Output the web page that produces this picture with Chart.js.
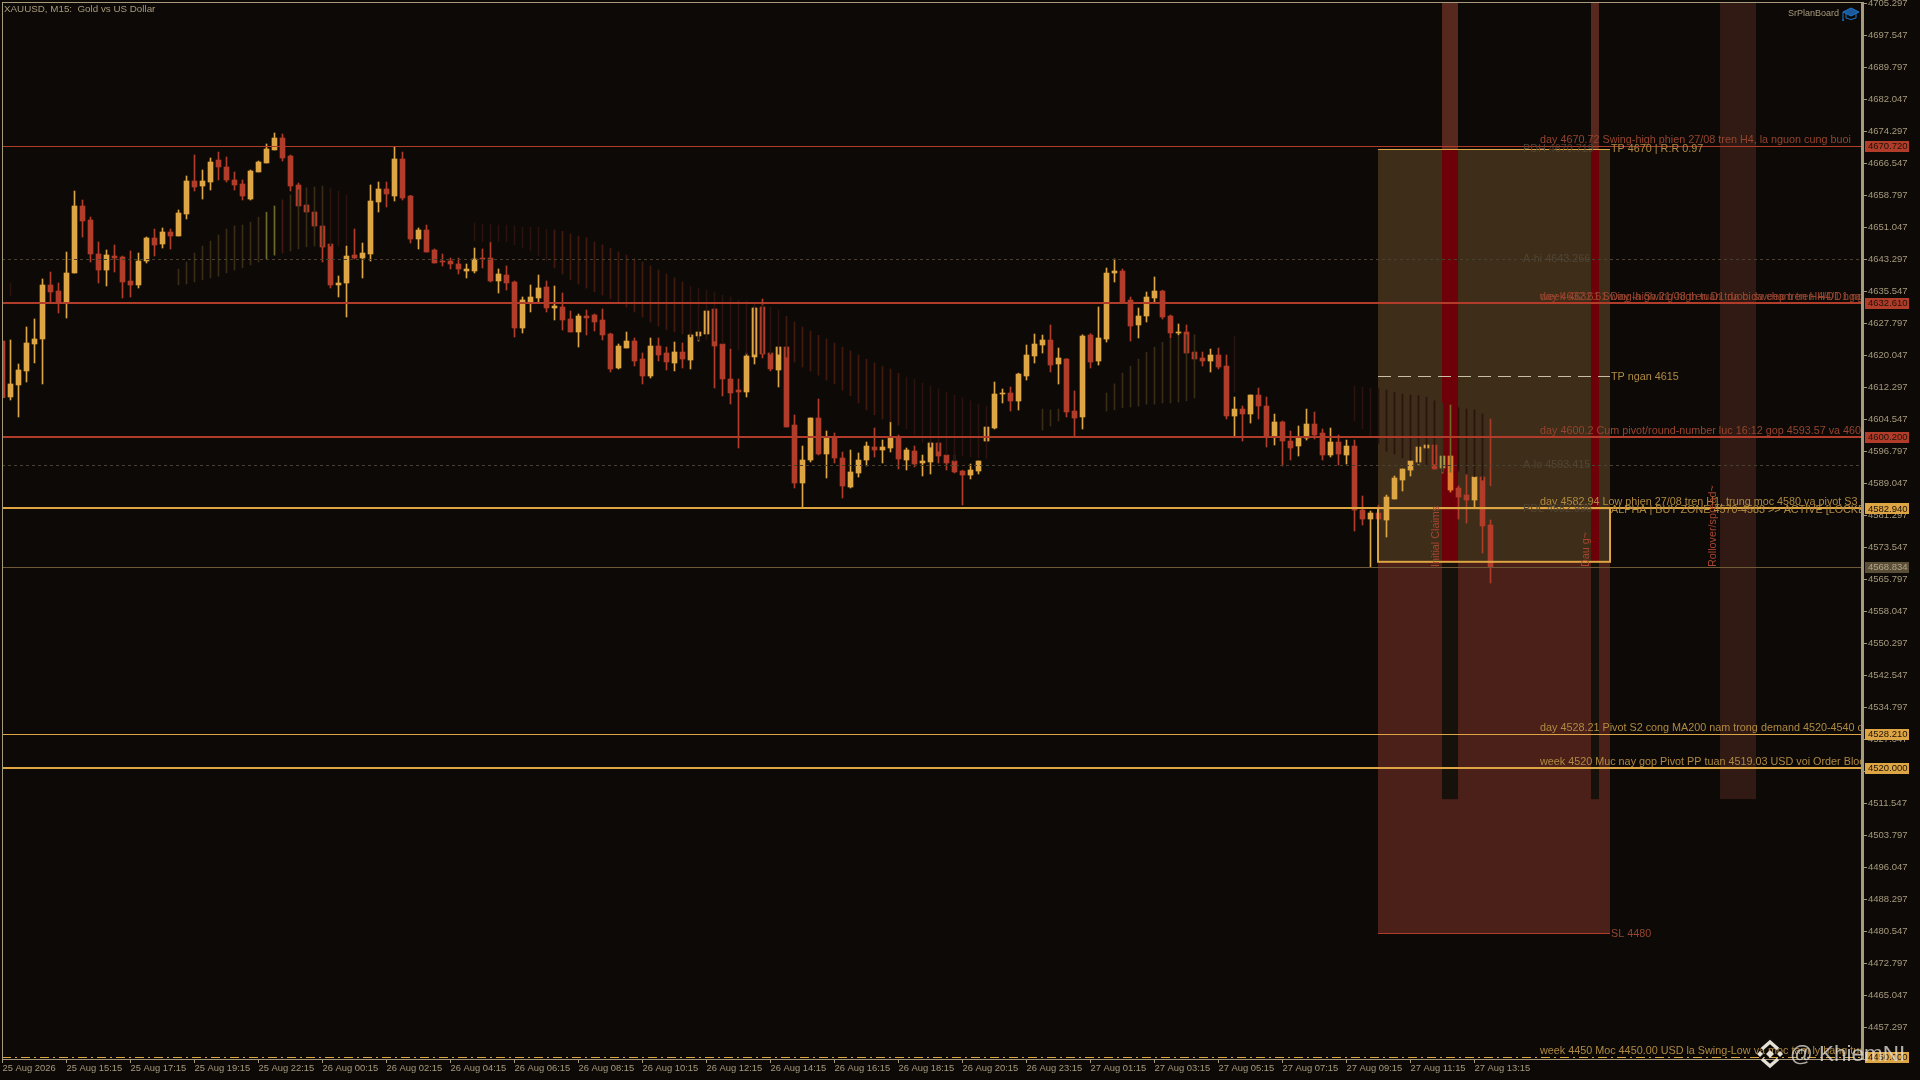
<!DOCTYPE html>
<html>
<head>
<meta charset="utf-8">
<title>XAUUSD M15</title>
<style>
html,body{margin:0;padding:0;background:#0c0907;overflow:hidden}
canvas{display:block}
</style>
<script src="https://cdn.jsdelivr.net/npm/chart.js@4"></script>
</head>
<body>
<canvas id="chart" width="1920" height="1080"></canvas>
<script>
// candles
var opens = [
4623.5,4609.93,4612.84,4616.23,4622.77,4623.98,4637.06,4635.61,4632.94,4639.97,
4656.2,4652.81,4644.57,4640.69,4644.08,4643.84,4638.03,4637.06,4642.87,4648.45,
4646.99,4649.9,4648.93,4654.26,4662.26,4661.04,4662.01,4667.34,4665.65,4662.5,
4661.53,4657.89,4664.44,4666.62,4669.77,4672.67,4668.31,4661.29,4656.44,4654.74,
4651.35,4646.99,4637.06,4637.54,4644.33,4643.6,4644.57,4657.17,4660.32,4658.62,
4667.59,4658.62,4648.2,4650.38,4645.54,4642.87,4642.87,4642.15,4640.45,4640.45,
4643.6,4643.6,4638.03,4639.48,4637.79,4626.64,4632.7,4633.91,4636.58,4631.49,
4631.73,4628.82,4625.67,4629.55,4629.79,4628.58,4625.19,4616.95,4621.8,4623.49,
4619.13,4615.01,4622.28,4620.59,4618.16,4620.83,4618.89,4624.71,4625.19,4631.25,
4622.77,4614.29,4611.62,4611.14,4619.62,4631.73,4620.59,4616.47,4622.04,4603.14,
4589.09,4594.66,4604.84,4596.12,4600.24,4595.15,4588.12,4591.51,4594.66,4597.81,
4597.09,4597.57,4600.24,4594.66,4596.84,4593.94,4594.18,4598.78,4595.87,4594.42,
4591.99,4591.02,4591.99,4599.26,4602.41,4610.65,4610.89,4608.95,4615.01,4619.86,
4622.52,4623.73,4617.92,4619.13,4606.53,4605.08,4624.94,4618.64,4623.97,4639.96,
4640.45,4633.42,4627.37,4629.55,4633.91,4635.6,4629.55,4625.43,4625.67,4620.82,
4619.37,4618.64,4620.1,4617.43,4605.32,4607.01,4605.8,4610.41,4607.74,4600.23,
4603.87,4599.26,4598.05,4599.99,4603.38,4601.2,4595.87,4599.02,4595.87,4598.05,
4582.54,4580.36,4581.82,4580.12,4585.21,4589.81,4592.23,4594.17,4597.57,4598.29,
4592.72,4595.63,4587.87,4586.18,4584.97,4590.54,4578.91];
var highs = [
4623.5,4623.74,4617.92,4626.89,4628.83,4638.52,4640.21,4637.55,4645.05,4659.83,
4657.65,4653.53,4647.48,4645.54,4646.75,4644.08,4645.3,4644.81,4648.69,4650.63,
4650.87,4650.63,4655.23,4663.47,4668.55,4664.92,4667.83,4669.28,4668.07,4664.44,
4662.5,4664.92,4667.1,4671.22,4673.88,4673.64,4668.55,4661.77,4656.44,4654.74,
4651.35,4646.99,4639.24,4646.51,4650.63,4647.23,4661.29,4662.01,4662.01,4670.49,
4669.28,4658.8,4650.87,4651.59,4645.8,4644.57,4643.6,4643.6,4642.15,4646.02,
4645.78,4647.48,4640.94,4641.67,4638.03,4634.15,4637.06,4639.48,4638.03,4636.82,
4635.12,4630.76,4630.04,4631,4630.04,4631.25,4625.4,4622.77,4625.67,4624.22,
4620.59,4624.22,4624.22,4622.04,4623.25,4623.01,4625.2,4625.67,4630.76,4631.25,
4622.77,4621.56,4614.29,4620.59,4631.7,4633.67,4620.59,4622.04,4622.04,4605.57,
4598.05,4604.84,4609.44,4601.69,4601.2,4596.6,4597.09,4596.36,4599.02,4602.42,
4599.51,4603.87,4600.72,4597.57,4598.05,4595.87,4599,4599,4595.87,4595.87,
4592.2,4593.69,4594.42,4602.65,4613.56,4611.86,4612.34,4615.7,4622.52,4625.19,
4624.94,4627.37,4621.79,4619.2,4611.38,4625,4625.3,4631.73,4641.18,4643.36,
4640.93,4634.15,4631.49,4635.36,4639,4635.8,4629.8,4627.61,4627.37,4620.82,
4620.82,4621.55,4621.79,4620.1,4609.92,4607.74,4610.41,4612.1,4609.92,4605.8,
4604.11,4601.68,4602.9,4607.01,4606.29,4602.17,4602.41,4600.72,4599.5,4599.5,
4585.94,4582.3,4583.75,4586.18,4590.78,4592.48,4594.42,4597.81,4598.29,4598.29,
4595.63,4595.63,4588.36,4591.02,4590.54,4590.9,4580.12];
var lows = [
4609.77,4609.2,4605.08,4613.56,4618.17,4613.08,4632.94,4630.28,4629.06,4639.97,
4648.69,4642.63,4637.54,4636.82,4640.21,4633.91,4634.15,4636.33,4642.39,4644.08,
4646.02,4645.78,4648.93,4653.05,4659.83,4657.89,4660.07,4662.5,4662.01,4660.07,
4657.65,4657.65,4664.44,4666.62,4669.77,4667.1,4659.83,4656.2,4654.74,4651.35,
4642.63,4636.33,4634.15,4629.31,4643.36,4638.75,4642.87,4654.74,4655.96,4657.41,
4657.65,4647.23,4645.78,4645.05,4642.39,4641.66,4640.93,4639.72,4638.75,4639.97,
4641.18,4637.79,4635.12,4635.85,4624.46,4625.43,4630.52,4632.7,4630.52,4628.58,
4626.16,4625.67,4622.04,4624.95,4625.92,4623.74,4615.98,4616.71,4621.8,4617.44,
4613.08,4614.53,4618.65,4616.47,4616.23,4616.95,4616.71,4623.49,4625.19,4612.11,
4610.17,4608.23,4597.57,4609.93,4617.92,4619.38,4616.23,4612.35,4602.66,4587.88,
4583.28,4594.18,4595.87,4590.3,4593.94,4585.46,4587.88,4590.54,4593.21,4595.39,
4593.94,4596.6,4592.48,4592.24,4592.97,4590.79,4591.27,4593.94,4592.24,4591.51,
4583.76,4590.06,4591.27,4599.26,4602.17,4608.47,4606.53,4606.77,4614.04,4618.16,
4620.58,4615.98,4613.07,4605.08,4600.47,4602.17,4616.95,4617.67,4623.25,4637.78,
4632.94,4623.49,4624.22,4628.09,4632.94,4628.82,4624.22,4624.94,4620.58,4619.13,
4617.43,4615.98,4616.71,4604.59,4600.47,4599.26,4603.62,4604.59,4597.81,4598.29,
4593.2,4594.66,4595.63,4599.5,4599.75,4594.66,4595.39,4593.45,4593.69,4577.46,
4578.91,4568.73,4580.36,4576,4585.21,4587.15,4590.78,4593.45,4597.57,4592.48,
4591.51,4586.9,4580.36,4579.39,4583.03,4572.13,4564.86];
var closes = [
4609.77,4613.08,4616.47,4623.01,4623.98,4637.06,4635.37,4632.7,4639.97,4656.2,
4652.56,4644.57,4640.69,4644.33,4643.6,4637.79,4637.06,4642.87,4648.45,4646.75,
4649.9,4648.93,4654.5,4662.26,4660.8,4662.26,4666.86,4665.65,4662.5,4661.29,
4658.62,4664.68,4666.86,4670.01,4672.67,4667.83,4661.04,4656.2,4654.74,4651.35,
4646.26,4637.06,4637.54,4644.08,4643.6,4644.81,4657.41,4660.32,4659.11,4667.59,
4658.14,4648.2,4650.38,4645.05,4642.39,4642.63,4642.15,4640.93,4640.93,4643.36,
4643.36,4638.03,4639.73,4637.55,4626.64,4633.43,4634.15,4636.34,4631.49,4631.97,
4628.58,4625.67,4629.55,4629.07,4628.1,4624.95,4616.71,4622.28,4623.49,4618.65,
4615.01,4622.28,4620.1,4618.41,4620.83,4619.13,4624.95,4625.67,4630.76,4622.28,
4614.29,4610.9,4611.14,4619.86,4631.49,4620.34,4616.71,4622.04,4602.66,4589.09,
4594.66,4604.84,4596.12,4599.99,4595.15,4588.36,4591.76,4594.66,4598.05,4597.09,
4597.81,4599.99,4594.91,4597.09,4593.69,4594.42,4598.78,4595.63,4593.94,4591.76,
4591.02,4592.24,4594.42,4602.65,4610.65,4610.89,4608.95,4615.49,4620.1,4622.76,
4623.73,4617.67,4619.37,4606.29,4604.83,4624.7,4618.4,4624.22,4639.96,4640.45,
4632.94,4627.12,4629.55,4634.15,4635.6,4629.3,4625.43,4625.67,4620.58,4619.13,
4618.64,4620.1,4617.19,4605.32,4607.01,4605.8,4610.41,4607.74,4600.23,4603.87,
4599.26,4597.57,4599.99,4603.38,4600.72,4595.87,4599.02,4596.11,4598.05,4582.54,
4580.36,4581.82,4580.36,4585.69,4590.3,4592.48,4594.42,4597.81,4598.29,4592.48,
4595.63,4587.39,4585.69,4584.97,4590.54,4578.67,4568.73];

// faint ribbon bars behind the candles
var ghostIndex = [1,
22,23,24,25,26,27,28,29,30,31,32,33,34,35,36,37,38,39,40,41,42,43,59,
60,61,62,63,64,65,66,67,68,69,70,71,72,73,74,75,76,77,78,79,80,81,82,83,84,85,86,87,88,89,
90,91,92,93,94,95,96,97,98,99,100,101,102,103,104,105,106,107,108,109,110,111,112,113,114,115,116,117,118,119,
120,121,122,123,130,131,132,138,139,140,141,142,143,144,145,146,147,148,149,154,
169,170,171,172,173,174,175,176,177,178,179,180,181,182,183,184,185,186];
var ghostHigh = [4637.6,
4640.9,4642.6,4644.8,4646.5,4647.7,4649.2,4650.6,4651.4,4651.6,4652.3,4653.5,4654.7,4656.2,4657.7,4658.9,4660.1,4660.6,4660.8,4661,4660.6,4659.8,4658.9,4652.1,
4651.8,4651.8,4651.6,4651.6,4651.4,4651.1,4651.1,4651.1,4650.6,4650.4,4650.1,4649.4,4648.9,4648.5,4647.5,4646.8,4646,4645.1,4644.3,4643.4,4642.6,4641.7,4640.7,4639.7,4638.8,4637.8,4636.8,4636.3,4635.8,4635.4,
4634.6,4634.2,4633.4,4633.2,4632.5,4632.2,4631.7,4631,4629.5,4628.1,4626.9,4625.9,4624.9,4624,4623,4622,4621.1,4620.1,4619.1,4618.2,4617.4,4616.7,4615.7,4614.8,4614.3,4613.3,4612.6,4611.9,4611.1,4610.4,
4609.7,4609,4608.2,4607.7,4607,4606.8,4607,4610.9,4613.1,4615.7,4617.4,4619.1,4620.8,4622,4623.2,4624,4624.7,4625,4625,4624.7,
4612.6,4612.3,4612.1,4611.9,4611.6,4611.1,4610.6,4610.4,4610.2,4609.9,4609,4608.5,4608,4607.3,4607,4606.8,4605.8,4604.6];
var ghostLow = [4634.5,
4637.1,4637.3,4637.8,4638.3,4638.8,4639.2,4640,4640.7,4641.2,4641.9,4642.6,4643.4,4644.3,4644.8,4645.3,4645.8,4646.3,4646.5,4646.5,4646.5,4646.5,4647,4647.7,
4647.5,4647.5,4647.5,4647.5,4646.8,4646,4645.3,4644.1,4642.9,4641.2,4639.7,4638.3,4637.3,4636.3,4635.4,4634.6,4633.7,4632.7,4631.7,4630.5,4629.3,4628.1,4627.1,4626.2,4625.7,4625.2,4624.5,4623.7,4623.7,4623.5,
4622.8,4622,4621.3,4620.3,4620.3,4620.5,4620.3,4620.3,4619.6,4618.4,4617.2,4616.2,4615.2,4614,4613.1,4611.6,4610.2,4608.5,4606.8,4605.6,4604.6,4603.9,4603.1,4602.2,4600.7,4599,4597.8,4596.8,4595.9,4594.4,
4595.6,4595.4,4595.1,4595.1,4601.9,4602.9,4604.1,4606.5,4606.8,4607.3,4607.5,4607.7,4608.2,4608.2,4608.5,4608.5,4608.7,4609,4609.7,4611.1,
4604.1,4602.2,4600.3,4598.7,4596.8,4596.1,4595.2,4594.6,4593.7,4593.4,4593.7,4591.7,4591.7,4592,4591.4,4590.6,4589.8,4588.4];
// g gold, o olive, r red, d dark red, x bright red
var ghostTone = "d" + "ggggggggggg" + "oo" + "r" + "ggggg" + "ddd" + "d"
  + "ddddddddd" + "rrrrrrrrrrrrrrrrr" + "dddd"
  + "dddddddd" + "rrrrrrrrrrrrrrr" + "ddddddd"
  + "dddd" + "ggg" + "gggggggggggg" + "d"
  + "ddddddddddd" + "go" + "dddd" + "x";

// axes
var priceTicks = [4705.297,4697.547,4689.797,4682.047,4674.297,4666.547,4658.797,4651.047,4643.297,4635.547,
4627.797,4620.047,4612.297,4604.547,4596.797,4589.047,4581.297,4573.547,4565.797,4558.047,4550.297,4542.547,
4534.797,4527.047,4519.297,4511.547,4503.797,4496.047,4488.297,4480.547,4472.797,4465.047,4457.297,4449.547];
var timeTicks = [0,8,16,24,32,40,48,56,64,72,80,88,96,104,112,120,128,136,144,152,160,168,176,184];
var timeLabels = ["25 Aug 2026","25 Aug 15:15","25 Aug 17:15","25 Aug 19:15","25 Aug 22:15","26 Aug 00:15",
"26 Aug 02:15","26 Aug 04:15","26 Aug 06:15","26 Aug 08:15","26 Aug 10:15","26 Aug 12:15","26 Aug 14:15",
"26 Aug 16:15","26 Aug 18:15","26 Aug 20:15","26 Aug 23:15","27 Aug 01:15","27 Aug 03:15","27 Aug 05:15",
"27 Aug 07:15","27 Aug 09:15","27 Aug 11:15","27 Aug 13:15"];

var bg = "#0c0907", tan = "#a89a7c", gold = "#dea544", red = "#b23c2a";
var textRed = "#96452f", textGold = "#b08a42", textGrey = "#4f4536";
var toneColors = {g:"#3a2c16", o:"#6f6a2c", r:"#43190f", d:"#2a120d", x:"#a83a28"};
// candles sitting on the overlapping bands change colour
var candleOverride = {180:"#a89c4c", 181:"#e27a2c"};

function candleColor(i) {
  if (candleOverride[i]) return candleOverride[i];
  return closes[i] >= opens[i] ? gold : red;
}

var wickData = highs.map(function (h, i) { return {x: i, y: [lows[i], h]}; });
var bodyData = opens.map(function (o, i) { return {x: i, y: [o, closes[i]]}; });
var ghostData = ghostIndex.map(function (k, i) { return {x: k, y: [ghostLow[i], ghostHigh[i]]}; });

// plan zones: [x from, x to, price from, price to, colour]
var zones = [
  [171.94,200.94,4570,4670,"#3e2d18"],
  [171.94,200.94,4480,4570,"#4b2019"],
  [179.94,181.94,4670,4710,"#56281e"],
  [179.94,181.94,4570,4670,"#6e0009"],
  [179.94,181.94,4512.5,4570,"#16110a"],
  [198.56,199.56,4670,4710,"#56281e"],
  [198.56,199.56,4570,4670,"#6e0009"],
  [198.56,199.56,4512.5,4570,"#16110a"],
  [214.69,219.19,4512.5,4710,"#301a13"]
];

// full width levels: [price, colour, width, dash]
var levels = [
  [4670.72,red,1,[]],
  [4643.266,"#4a4030",1,[3,3]],
  [4632.61,red,2,[]],
  [4600.2,red,2,[]],
  [4593.415,"#4a4030",1,[3,3]],
  [4582.94,gold,2,[]],
  [4568.834,"#6e5a36",1,[]],
  [4528.21,gold,1,[]],
  [4520,gold,2,[]],
  [4450,gold,1,[9,4,2,4]]
];
// plan lines: [price, colour, dash]
var planLines = [
  [4670,gold,[]],
  [4615,"#c8bea4",[13,7]],
  [4480,red,[]]
];
// price boxes on the axis
var priceBoxes = [
  [4670.72,red],[4632.61,red],[4600.2,red],[4582.94,gold],
  [4568.834,"#5a4e37"],[4528.21,gold],[4520,gold],[4450,gold]
];
// level notes: [text, price, colour]
var notes = [
  ["day 4670.72 Swing-high phien 27/08 tren H4, la nguon cung buoi",4670.72,textRed],
  ["day 4632.61 Swing-high 21/08 tren D1 da bi sweep tren H4/D1 ngay truoc",4632.61,textRed],
  ["week 4632.61 Day la Swing-high tuan truoc da cham tren H4/D1 ngay dau",4632.61,textRed],
  ["day 4600.2 Cum pivot/round-number luc 16:12 gop 4593.57 va 4601.5 tren H1",4600.2,textRed],
  ["day 4582.94 Low phien 27/08 tren H1, trung moc 4580 va pivot S3 tuan",4582.94,textGold],
  ["day 4528.21 Pivot S2 cong MA200 nam trong demand 4520-4540 cua H4",4528.21,textGold],
  ["week 4520 Muc nay gop Pivot PP tuan 4519.03 USD voi Order Block H4",4520,textGold],
  ["week 4450 Moc 4450.00 USD la Swing-Low va moc tam ly hang tuan",4450,textGold]
];
var greyTags = [["PDH 4670.719",4670],["A-hi 4643.266",4643.266],["A-lo 4593.415",4593.415],["PDL 4582.996",4582.7]];
var planTags = [
  ["TP 4670 | R:R 0.97",4670.2,textGold],
  ["TP ngan 4615",4615,textGold],
  ["ALPHA | BUY ZONE 4570-4583 >> ACTIVE [LOCKED]",4582.7,textGold],
  ["SL 4480",4480,textRed]
];
// upright event names: [text, x index]
var eventTags = [["Initial Claims",179.2],["Dau g~",197.9],["Rollover/spread~",213.8]];

var overlay = {
  id: "overlay",
  beforeDatasetsDraw: function (chart) {
    var c = chart.ctx, a = chart.chartArea, xs = chart.scales.x, ys = chart.scales.y;
    c.save();
    c.beginPath(); c.rect(a.left, a.top, a.width, a.height); c.clip();
    zones.forEach(function (z) {
      var x1 = xs.getPixelForValue(z[0]), x2 = xs.getPixelForValue(z[1]);
      var y1 = ys.getPixelForValue(z[3]), y2 = ys.getPixelForValue(z[2]);
      c.fillStyle = z[4];
      c.fillRect(x1, y1, x2 - x1, y2 - y1);
    });
    c.restore();
  },
  afterDatasetsDraw: function (chart) {
    var c = chart.ctx, a = chart.chartArea, xs = chart.scales.x, ys = chart.scales.y;
    var zoneLeft = xs.getPixelForValue(171.94), zoneRight = xs.getPixelForValue(200.94);
    c.save();
    c.beginPath(); c.rect(a.left, a.top, a.width, a.height); c.clip();

    levels.forEach(function (l) {
      var y = Math.round(ys.getPixelForValue(l[0]));
      c.strokeStyle = l[1]; c.lineWidth = l[2]; c.setLineDash(l[3]);
      c.beginPath();
      var off = l[2] % 2 ? 0.5 : 0;
      c.moveTo(a.left, y + off); c.lineTo(a.right, y + off); c.stroke();
    });
    planLines.forEach(function (l) {
      var y = Math.round(ys.getPixelForValue(l[0])) + 0.5;
      c.strokeStyle = l[1]; c.lineWidth = 1; c.setLineDash(l[2]);
      c.beginPath(); c.moveTo(zoneLeft, y); c.lineTo(zoneRight, y); c.stroke();
    });
    c.setLineDash([]);

    // buy zone frame
    var fTop = ys.getPixelForValue(4583), fBot = ys.getPixelForValue(4570);
    c.strokeStyle = gold; c.lineWidth = 2;
    c.strokeRect(zoneLeft, fTop, zoneRight - zoneLeft, fBot - fTop);

    c.textBaseline = "middle"; c.textAlign = "left";
    c.font = "10.8px 'Liberation Sans'";
    notes.forEach(function (n) {
      c.fillStyle = n[2];
      c.fillText(n[0], 1540, ys.getPixelForValue(n[1]) - 6);
    });
    greyTags.forEach(function (t) {
      c.fillStyle = textGrey;
      c.fillText(t[0], 1523, ys.getPixelForValue(t[1]));
    });
    planTags.forEach(function (t) {
      c.fillStyle = t[2];
      c.fillText(t[0], 1611, ys.getPixelForValue(t[1]) + 1);
    });
    eventTags.forEach(function (t) {
      c.save();
      c.translate(xs.getPixelForValue(t[1]), 567);
      c.rotate(-Math.PI / 2);
      c.fillStyle = "#a8452f";
      c.fillText(t[0], 0, 0);
      c.restore();
    });
    c.restore();

    // frame lines
    c.fillStyle = tan;
    c.fillRect(a.left, a.top, 1, a.height);
    c.fillRect(a.left, a.top, a.width, 1);
    c.fillRect(a.left, a.bottom, a.width, 1);
    c.fillRect(a.right - 1, a.top, 3, a.height);

    // price boxes
    c.font = "9.5px 'Liberation Sans'";
    c.textBaseline = "middle";
    priceBoxes.forEach(function (b) {
      var y = ys.getPixelForValue(b[0]);
      c.fillStyle = b[1];
      c.fillRect(1865, Math.round(y) - 5, 44, 11);
      c.fillStyle = b[1] === "#5a4e37" ? "#b0a488" : "#1c1208";
      c.fillText(b[0].toFixed(3), 1868, y + 0.5);
    });

    // header text
    c.fillStyle = tan;
    c.font = "9.8px 'Liberation Sans'";
    c.fillText("XAUUSD, M15:  Gold vs US Dollar", 4, 9);
    c.font = "9px 'Liberation Sans'";
    c.fillText("SrPlanBoard", 1788, 14);
    drawHat(c, 1851, 14);
    drawWatermark(c);
  }
};

function drawHat(c, x, y) {
  c.save();
  c.strokeStyle = "#1e78c8"; c.fillStyle = "#1a5a9c"; c.lineWidth = 1;
  c.beginPath();
  c.moveTo(x - 8, y - 2); c.lineTo(x, y - 6); c.lineTo(x + 8, y - 2); c.lineTo(x, y + 2); c.closePath();
  c.fill(); c.stroke();
  c.beginPath();
  c.moveTo(x - 5, y); c.lineTo(x - 5, y + 4); c.quadraticCurveTo(x, y + 7, x + 5, y + 4); c.lineTo(x + 5, y);
  c.stroke();
  c.beginPath();
  c.moveTo(x - 8, y - 2); c.lineTo(x - 8, y + 5); c.stroke();
  c.fillRect(x - 9, y + 5, 2, 2);
  c.restore();
}

function diamond(c, x, y, r) {
  c.beginPath();
  c.moveTo(x, y - r); c.lineTo(x + r, y); c.lineTo(x, y + r); c.lineTo(x - r, y); c.closePath();
  c.fill();
}

function drawWatermark(c) {
  var x = 1770, y = 1054;
  c.save();
  c.fillStyle = "#e6e1d6";
  diamond(c, x, y, 4);
  diamond(c, x - 10, y, 3);
  diamond(c, x + 10, y, 3);
  c.strokeStyle = "#e6e1d6"; c.lineWidth = 3.4;
  c.beginPath();
  c.moveTo(x - 8, y - 5); c.lineTo(x, y - 12); c.lineTo(x + 8, y - 5);
  c.moveTo(x - 8, y + 5); c.lineTo(x, y + 12); c.lineTo(x + 8, y + 5);
  c.stroke();
  c.font = "22.5px 'Liberation Sans'";
  c.fillStyle = "rgba(225,222,214,0.78)";
  c.textBaseline = "middle"; c.textAlign = "left";
  c.fillText("@ KhiemNI", 1790, 1055);
  c.restore();
}

new Chart(document.getElementById("chart"), {
  type: "bar",
  data: {
    datasets: [
      {label: "ribbon", data: ghostData, barThickness: 1, order: 1, grouped: false,
       backgroundColor: ghostIndex.map(function (k, i) { return toneColors[ghostTone[i]] || toneColors.d; })},
      {label: "body", data: bodyData, barThickness: 5, order: 2, grouped: false,
       backgroundColor: opens.map(function (o, i) { return candleColor(i); })},
      {label: "wick", data: wickData, barThickness: 1, order: 3, grouped: false,
       backgroundColor: opens.map(function (o, i) { return candleColor(i); })}
    ]
  },
  options: {
    responsive: false,
    devicePixelRatio: 1,
    animation: false,
    layout: {padding: {left: 2, right: 0, top: 2, bottom: 0}},
    plugins: {legend: {display: false}, tooltip: {enabled: false}, title: {display: false}},
    scales: {
      x: {
        type: "linear", position: "bottom", offset: false,
        min: -0.0625, max: 232.4375,
        border: {display: false},
        grid: {drawOnChartArea: false, color: tan, tickLength: 4, offset: false},
        ticks: {
          color: tan, font: {family: "Liberation Sans", size: 9.4},
          align: "start", padding: 0, maxRotation: 0, autoSkip: false,
          callback: function (v) { return timeLabels[timeTicks.indexOf(v)]; }
        },
        afterBuildTicks: function (s) { s.ticks = timeTicks.map(function (v) { return {value: v}; }); },
        afterFit: function (s) { s.height = 21; s.paddingLeft = 0; s.paddingRight = 0; }
      },
      y: {
        type: "linear", position: "right",
        min: 4449.547, max: 4705.62,
        border: {display: false},
        grid: {drawOnChartArea: false, color: tan, tickLength: 5},
        ticks: {
          color: tan, font: {family: "Liberation Sans", size: 9.5},
          padding: 1, autoSkip: false,
          callback: function (v) { return v.toFixed(3); }
        },
        afterBuildTicks: function (s) { s.ticks = priceTicks.map(function (v) { return {value: v}; }); },
        afterFit: function (s) { s.width = 58; s.paddingTop = 0; s.paddingBottom = 0; }
      }
    }
  },
  plugins: [overlay]
});
</script>
</body>
</html>
